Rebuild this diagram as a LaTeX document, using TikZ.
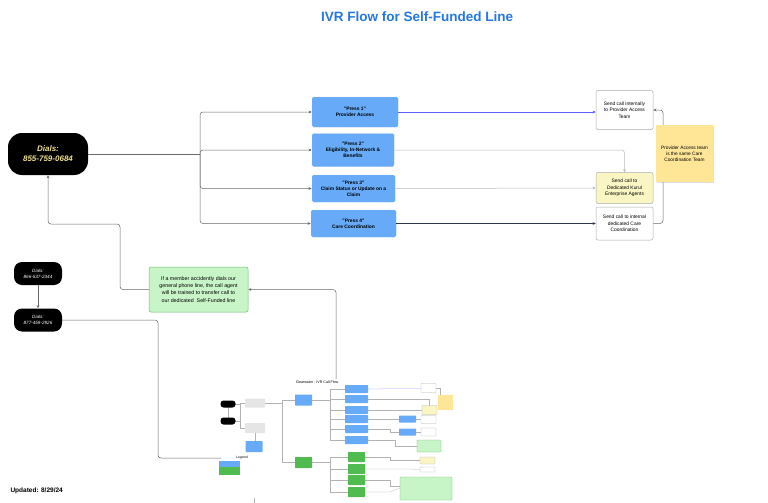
\documentclass[tikz,border=0pt]{standalone}
\usepackage{fontspec}
\setmainfont{Liberation Sans}
\usetikzlibrary{arrows.meta,shadows}
\definecolor{bluef}{RGB}{102,170,248}
\definecolor{blued}{RGB}{140,185,245}
\definecolor{greenf}{RGB}{200,245,200}
\definecolor{greend}{RGB}{110,190,110}
\definecolor{tgreen}{RGB}{80,188,80}
\definecolor{yelf}{RGB}{250,246,196}
\definecolor{stickyf}{RGB}{255,230,150}
\definecolor{titleblue}{RGB}{35,120,228}
\definecolor{lineg}{RGB}{105,105,110}
\definecolor{dialyel}{RGB}{240,226,140}
\definecolor{p1line}{RGB}{95,95,255}
\definecolor{p4line}{RGB}{45,55,75}
\begin{document}
\begin{tikzpicture}[x=1pt,y=-1pt,
  conn/.style={draw=lineg,line width=0.5pt,-{Stealth[length=3.2pt,width=2.8pt]}},
  plain/.style={draw=lineg,line width=0.5pt},
  bluebox/.style={rectangle,rounded corners=1.5pt,fill=bluef,draw=blued,densely dotted,line width=0.5pt,
     align=center,font=\fontsize{4.9}{5.9}\selectfont\bfseries,inner sep=1pt},
  wbox/.style={rectangle,rounded corners=2pt,fill=white,draw=gray!65,line width=0.5pt,
     align=center,font=\fontsize{4.9}{6.3}\selectfont,inner sep=1pt,minimum width=57pt},
  ybox/.style={wbox,fill=yelf},
  bigpill/.style={rectangle,rounded corners=14pt,fill=black,text=dialyel,align=center,
     font=\fontsize{8}{10}\selectfont\bfseries\itshape,minimum width=80pt,minimum height=42pt},
  smallpill/.style={rectangle,rounded corners=8pt,fill=black,text=white,align=center,
     font=\fontsize{4.6}{6}\selectfont\itshape,minimum width=48pt,minimum height=23pt},
  gbox/.style={rectangle,rounded corners=2pt,fill=greenf,draw=greend,line width=0.5pt,align=center,
     font=\fontsize{5.3}{7.2}\selectfont,minimum width=99pt,minimum height=45pt},
  sticky/.style={rectangle,fill=stickyf,align=center,font=\fontsize{4.8}{6.2}\selectfont,
     minimum width=57pt,minimum height=57pt,drop shadow={opacity=0.25,shadow xshift=1pt,shadow yshift=-1pt}},
  tb/.style={rectangle,rounded corners=0.6pt,line width=0.2pt,inner sep=0pt},
  tl/.style={draw=gray!60,line width=0.25pt}
]
\useasboundingbox[fill=white] (0,0) rectangle (768,503);

% title
\node[font=\fontsize{13.5}{16}\selectfont\bfseries,text=titleblue] (title) at (417,17) {IVR Flow for Self-Funded Line};
\node[font=\fontsize{6.5}{8}\selectfont\bfseries,anchor=west] (upd) at (7,491) {Updated: 8/29/24};

% main dials
\node[bigpill] (dials) at (48,154) {Dials:\\855-759-0684};

% blue boxes
\node[bluebox,minimum width=86pt,minimum height=30pt] (p1) at (355,112) {"Press 1"\\Provider Access};
\node[bluebox,minimum width=82pt,minimum height=33pt] (p2) at (353,150) {"Press 2"\\Eligibility, In-Network \&\\Benefits};
\node[bluebox,minimum width=83pt,minimum height=27pt] (p3) at (353.5,188.5) {"Press 3"\\Claim Status or Update on a\\Claim};
\node[bluebox,minimum width=85pt,minimum height=27pt] (p4) at (353.5,223.5) {"Press 4"\\Care Coordination};

% right boxes
\node[wbox,minimum height=39pt] (top) at (624.5,110) {Send call internally\\to Provider Access\\Team};
\node[ybox,minimum height=31pt] (yel) at (624.5,188) {Send call to\\Dedicated Kurul\\Enterprise Agents};
\node[wbox,minimum height=33pt] (bot) at (624.5,223.5) {Send call to internal\\dedicated Care\\Coordination};

% fork
\coordinate (fork) at (200,154);
\draw[plain] (dials.east) -- (fork);
\draw[conn,rounded corners=3pt] (fork) |- (p1.west);
\draw[conn,rounded corners=3pt] (fork) |- (p2.west);
\draw[conn,rounded corners=3pt] (fork) |- (p3.west);
\draw[conn,rounded corners=3pt] (fork) |- (p4.west);

% blue to right
\draw[conn,draw=p1line] (p1.east) -- (p1.east -| top.west);
\draw[conn,draw=gray!55,rounded corners=3pt] (p2.east) -| (yel.north);
\draw[conn,draw=gray!55] (p3.east) -- (yel.west);
\draw[conn,draw=p4line] (p4.east) -- (bot.west);
\draw[conn,rounded corners=3pt] (bot.east) -- (663,223.5) |- (top.east);

% sticky
\node[sticky] (note) at (684.5,153.5) {Provider Access team\\is the same Care\\Coordination Team};

% small dials
\node[smallpill] (d1) at (38,273.5) {Dials:\\866-537-2344};
\node[smallpill] (d2) at (38,320) {Dials:\\877-459-2926};
\draw[conn] (d1.south) -- (d2.north);

% green box
\node[gbox] (green) at (198.5,289.5) {If a member accidently dials our\\general phone line, the call agent\\will be trained to transfer call to\\our dedicated\ \ Self-Funded line};
\draw[conn,rounded corners=3pt] (green.west) -| (120,224) -| (dials.south);

% thumbnail connections
\coordinate (thumbtop) at (336,379);
\coordinate (thumbleft) at (221,458);
\draw[conn,rounded corners=3pt] (thumbtop) |- (green.east);
\draw[plain,rounded corners=3pt] (d2.east) -- (158,320) |- (thumbleft);

% ---------- thumbnail ----------
\node[font=\fontsize{3.6}{4}\selectfont] (ttitle) at (317,382) {Clearwater - IVR Call Flow};
% lines
\draw[tl] (235,404) -- (240,404) |- (245,403);
\draw[tl] (240,404) |- (245,428);
\draw[tl] (235,421) -- (240,421);
\draw[tl] (228,407) -- (228,418);
\draw[tl] (265,403) -- (282,403);
\draw[tl] (282,400) -- (295,400);
\draw[tl] (282,400) |- (295,462);
\draw[tl] (255,433) -- (255,441);
\draw[tl] (312,400) -- (330,400);
\draw[tl] (330,389) -- (330,440);
\foreach \yy in {389,399,410,419,429,440} \draw[tl] (330,\yy) -- (345,\yy);
\draw[tl] (312,462) -- (330,462);
\draw[tl] (330,457) -- (330,492);
\foreach \yy in {457,469,480,492} \draw[tl] (330,\yy) -- (348,\yy);
\draw[tl,draw=p1line!60] (368,389) -- (421,388.5);
\draw[tl] (368,399) -| (429,405.5);
\draw[tl] (368,410) -- (422,410);
\draw[tl] (368,419) -- (399,419);
\draw[tl] (368,429) -- (390,429) |- (399,432);
\draw[tl] (368,440) -- (395,440) |- (417,446);
\draw[tl] (416,419) -- (421,419);
\draw[tl] (416,432) -- (421,432);
\draw[tl] (436,388) -- (440,388) |- (438,402);
\draw[tl] (365,457) -- (390,457) |- (420,460);
\draw[tl] (365,469) -- (410,469) -- (420,469.5);
\draw[tl] (365,480) -- (390,480) |- (400,486);
\draw[tl] (365,492) -- (390,492) -- (400,488);
\draw[tl] (254,498) -- (254,503);
% boxes
\foreach \yy in {404,421} \node[tb,fill=black,rounded corners=3pt,minimum width=15pt,minimum height=7pt] at (228,\yy) {};
\node[tb,fill=gray!20,minimum width=20pt,minimum height=9pt] at (255,403) {};
\node[tb,fill=gray!20,minimum width=20pt,minimum height=10pt] at (255,428) {};
\node[tb,fill=bluef,minimum width=17pt,minimum height=11pt] at (254,446.5) {};
\node[font=\fontsize{3.4}{4}\selectfont] (tleg) at (242,458) {Legend};
\fill[bluef] (219,461) rectangle (240,467);
\fill[tgreen] (219,467) rectangle (240,475);
\node[tb,fill=bluef,minimum width=17pt,minimum height=11pt] at (303.5,400) {};
\node[tb,fill=tgreen,minimum width=17pt,minimum height=11pt] at (303.5,462.5) {};
\foreach \yy in {389,399,410,419,429,440} \node[tb,fill=bluef,minimum width=23pt,minimum height=8pt] at (356.5,\yy) {};
\foreach \yy in {457,469,480,492} \node[tb,fill=tgreen,minimum width=17pt,minimum height=10pt] at (356.5,\yy) {};
\foreach \yy in {419,432} \node[tb,fill=bluef,minimum width=17pt,minimum height=7pt] at (407.5,\yy) {};
\node[tb,draw=gray!60,fill=white,minimum width=15pt,minimum height=9pt] at (428.5,388) {};
\node[tb,draw=gray!60,fill=yelf,minimum width=15pt,minimum height=9pt] at (429.5,410) {};
\node[tb,draw=gray!60,fill=white,minimum width=15pt,minimum height=8pt] at (428.5,419.5) {};
\node[tb,draw=gray!60,fill=white,minimum width=15pt,minimum height=8pt] at (428.5,432) {};
\fill[stickyf] (438,395) rectangle (453,410);
\node[tb,draw=greend,fill=greenf,minimum width=24pt,minimum height=12pt] at (429,446) {};
\node[tb,draw=gray!60,fill=yelf,minimum width=15pt,minimum height=7pt] at (427.5,460.5) {};
\node[tb,draw=gray!60,fill=white,minimum width=15pt,minimum height=5pt] at (427.5,469.5) {};
\node[tb,draw=greend,fill=greenf,minimum width=52pt,minimum height=23pt] at (426,488.5) {};
\end{tikzpicture}
\end{document}
